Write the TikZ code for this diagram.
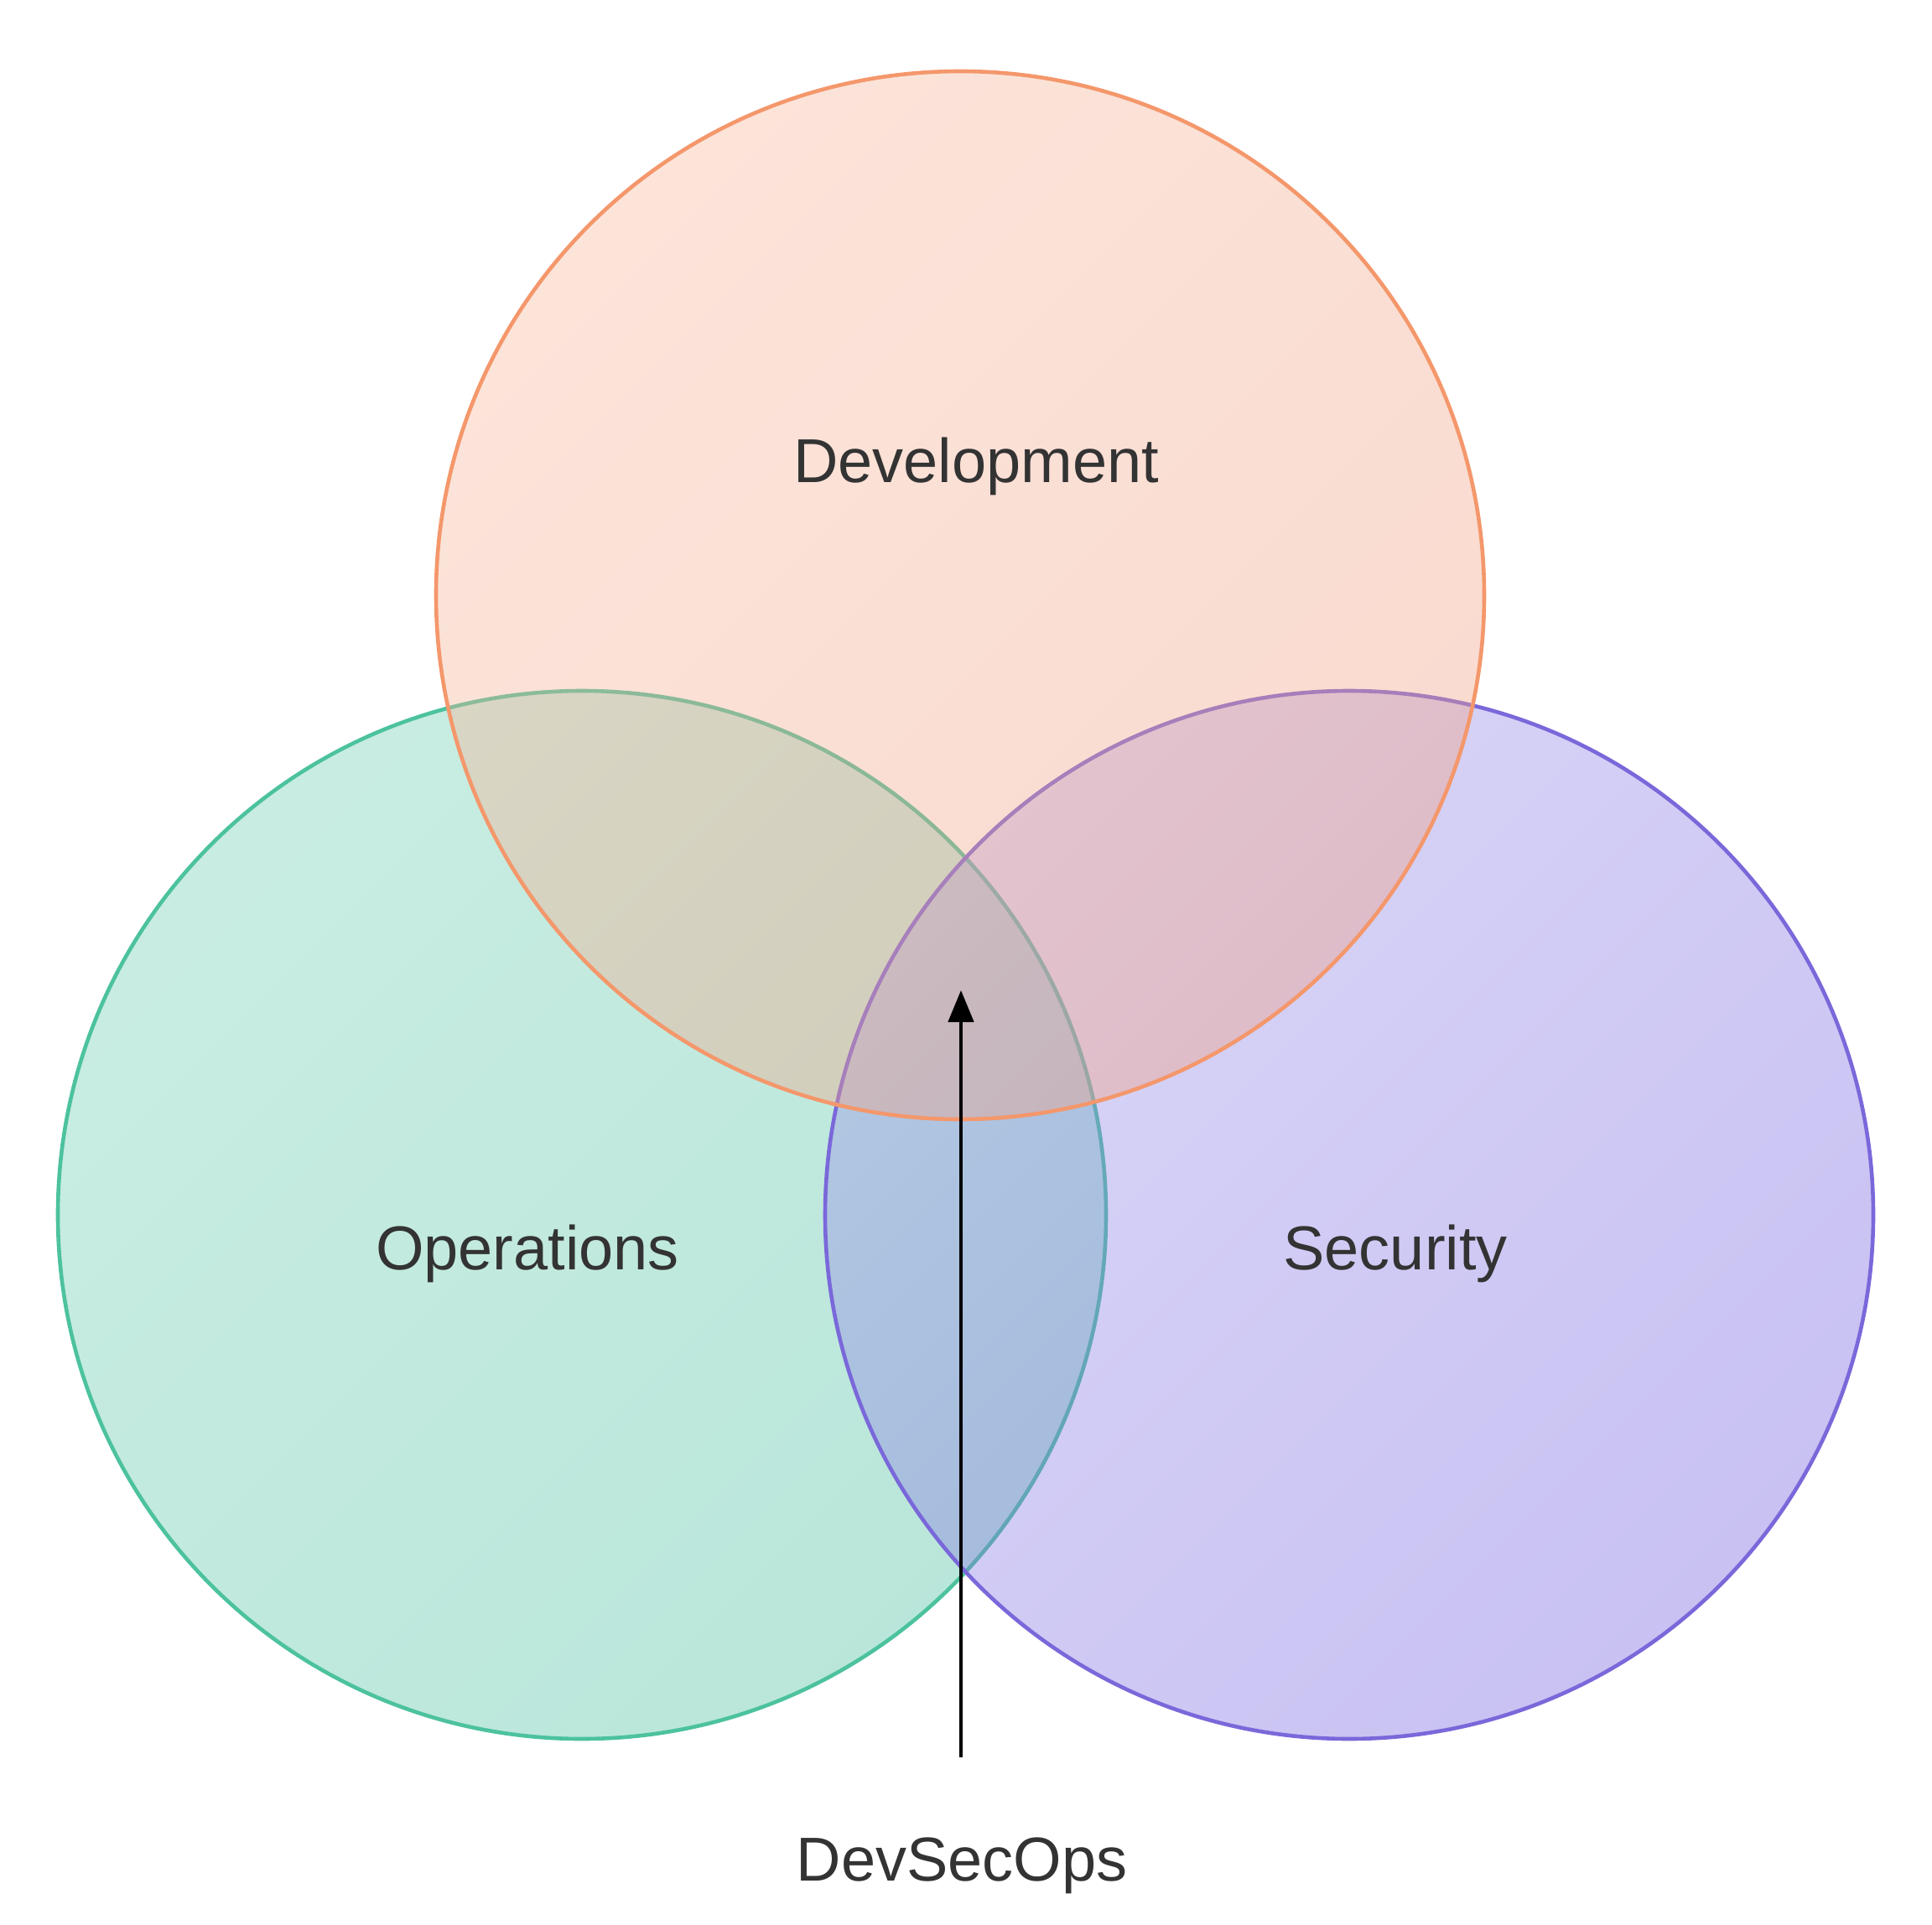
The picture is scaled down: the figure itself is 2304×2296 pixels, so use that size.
\documentclass[tikz,border=0pt]{standalone}
\usepackage{fontspec}
\setmainfont{Liberation Sans}
\usetikzlibrary{arrows.meta}
\definecolor{txt}{HTML}{333333}
\definecolor{devline}{RGB}{244,151,107}
\definecolor{devtop}{RGB}{246,184,156}
\definecolor{devbot}{RGB}{240,158,130}
\definecolor{opsline}{RGB}{76,194,158}
\definecolor{opstop}{RGB}{112,206,178}
\definecolor{opsbot}{RGB}{72,190,158}
\definecolor{secline}{RGB}{122,104,218}
\definecolor{sectop}{RGB}{156,146,233}
\definecolor{secbot}{RGB}{110,92,222}
\tikzset{
  venn/.style={circle, minimum size=625pt, inner sep=0pt, outer sep=0pt,
    line width=2.3pt, fill opacity=0.38, draw opacity=1},
  diag/.style={shading angle=45},
  lbl/.style={text=txt, font=\fontsize{37}{44}\selectfont, inner sep=0pt, anchor=base},
  pointer/.style={draw=black, line width=2.3pt, -{Triangle[length=19pt,width=15pt]}}
}
\begin{document}
\begin{tikzpicture}[x=0.5pt,y=-0.5pt]
\useasboundingbox (0,0) rectangle (2304,2296);
\node[venn, draw=opsline, top color=opstop, bottom color=opsbot, diag] (ops) at (694,1449) {};
\node[venn, draw=secline, top color=sectop, bottom color=secbot, diag] (sec) at (1609,1449) {};
\node[venn, draw=devline, top color=devtop, bottom color=devbot, diag] (dev) at (1145,710) {};
\node[lbl] (devlbl) at (1164,575) {Development};
\node[lbl] (opslbl) at (629,1514) {Operations};
\node[lbl] (seclbl) at (1664,1514) {Security};
\node[lbl] (dso) at (1147,2243) {DevSecOps};
\coordinate (tail) at (1146,2096);
\coordinate (core) at (1146,1181);
\draw[pointer] (tail) -- (core);
\end{tikzpicture}
\end{document}
